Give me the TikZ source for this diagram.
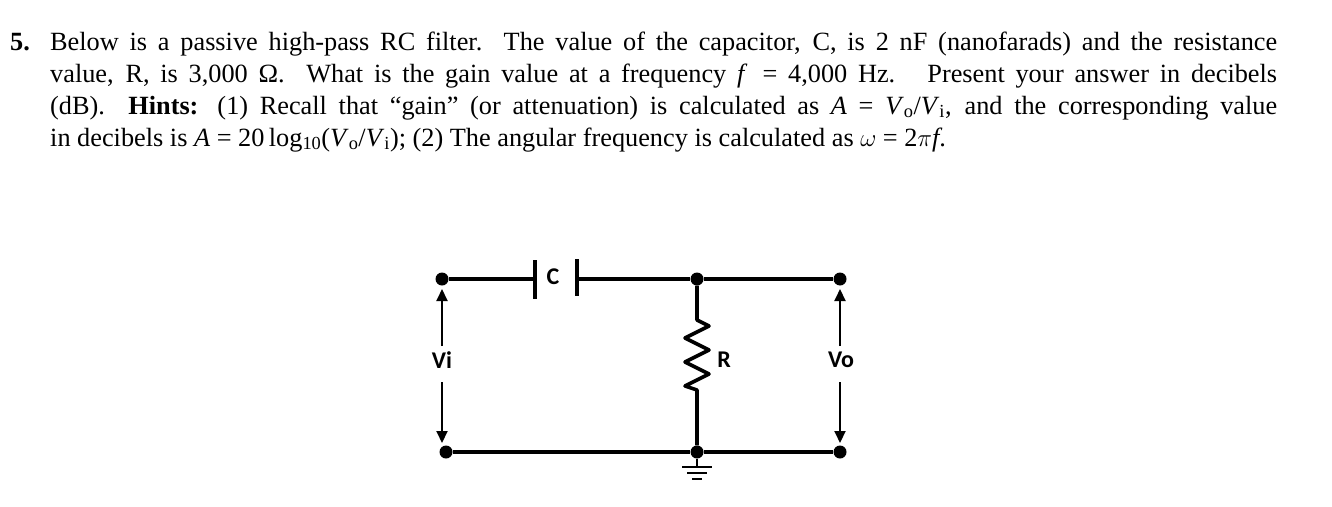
\documentclass[tikz,border=0pt]{standalone}
\usepackage{fontspec}
\setmainfont{Liberation Serif}
\newfontfamily\lab{Carlito}
\usetikzlibrary{arrows.meta}
\begin{document}
\begin{tikzpicture}[x=1pt,y=-1pt,
  wire/.style={line width=3.6pt},
  dotn/.style={circle,fill,inner sep=0pt,minimum size=13pt},
  varrow/.style={line width=2pt,-{Triangle[length=12pt,width=11pt]}},
  lbl/.style={font=\lab\bfseries\fontsize{24}{26}\selectfont},
  txt/.style={anchor=base west,inner sep=0pt,font=\fontsize{26.3}{30}\selectfont}]
\useasboundingbox (0,0) rectangle (1332,506);
\node[txt] (n5) at (10,50) {\textbf{5.}};
\node[txt] (l1) at (50,50) {\makebox[1227pt][s]{Below is a passive high-pass RC filter. The value of the capacitor, C, is 2 nF (nanofarads) and the resistance}};
\node[txt] (l2) at (50,82) {\makebox[1227pt][s]{value, R, is 3,000 Ω. \ What is the gain value at a frequency \textit{f}\, = 4,000 Hz. \ Present your answer in decibels}};
\node[txt] (l3) at (50,114) {\makebox[1227pt][s]{(dB). \ \textbf{Hints:} (1) Recall that “gain” (or attenuation) is calculated as \textit{A} = \textit{V}\textsubscript{o}/\textit{V}\textsubscript{i}, and the corresponding value}};
\node[txt] (l4) at (50,146) {in decibels is \textit{A} = 20\,log\textsubscript{10}(\textit{V}\textsubscript{o}/\textit{V}\textsubscript{i}); (2) The angular frequency is calculated as $\omega$ = 2$\pi$\textit{f}.};
% circuit
\node[dotn] (a) at (442,279) {};
\node[dotn] (j) at (697,279) {};
\node[dotn] (b) at (840,279) {};
\node[dotn] (c) at (446,452) {};
\node[dotn] (g) at (697,452) {};
\node[dotn] (d) at (840,452) {};
\coordinate (p1) at (535,279);
\coordinate (p2) at (577,279);
\draw[wire] (a) -- (p1);
\draw[wire] (p1 |- 0,260) -- (p1 |- 0,299);
\draw[wire] (p2 |- 0,259) -- (p2 |- 0,296);
\draw[wire] (p2) -- (j) -- (b);
\node[lbl] (cl) at (553,277) {C};
\draw[wire,line join=round] (j) -- (697,320) -- (709,326) -- (685,338) -- (709,350) -- (685,362) -- (709,374) -- (685,386) -- (697,390) -- (g);
\draw[wire] (c) -- (g) -- (d);
\node[lbl] (rl) at (724,360) {R};
\draw[line width=2.6pt] (682,467) -- (712,467) (687,473) -- (707,473) (692,479) -- (702,479);
\draw[line width=2.6pt] (g) -- (697,467);
\node[lbl] (vi) at (442,360) {Vi};
\node[lbl] (vo) at (841,360) {Vo};
\draw[varrow] (442,346) -- (442,289);
\draw[varrow] (442,382) -- (442,443);
\draw[varrow] (840,346) -- (840,289);
\draw[varrow] (840,382) -- (840,443);
\end{tikzpicture}
\end{document}
